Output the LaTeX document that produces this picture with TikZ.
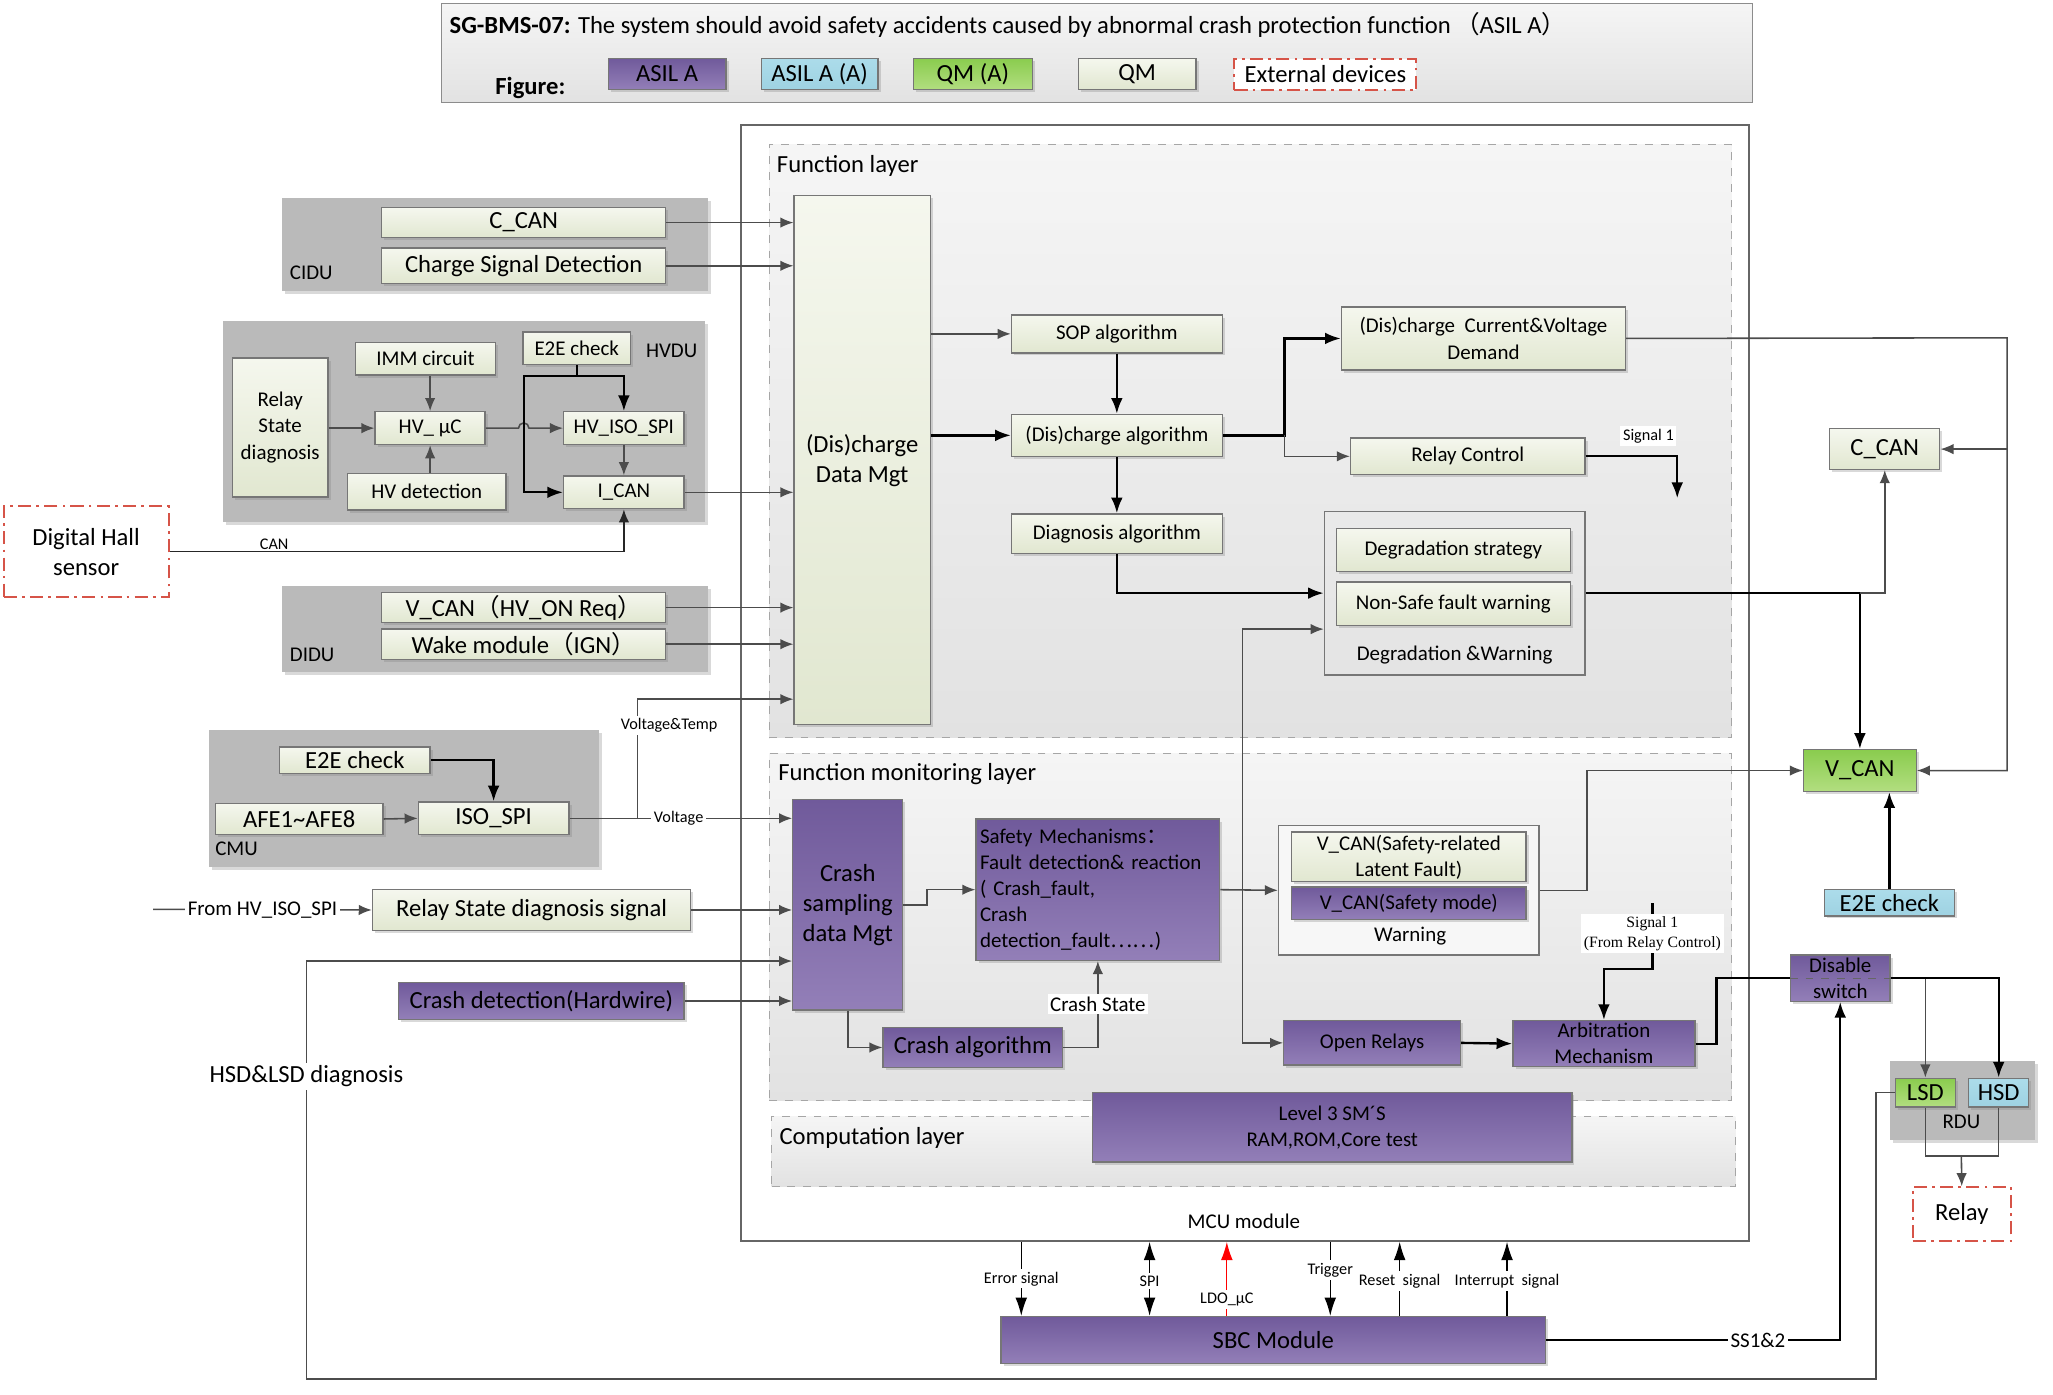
\documentclass[tikz,border=0pt]{standalone}
\usepackage{fontspec}
\setmainfont{Carlito}
\newfontfamily\cjk{Noto Sans CJK SC}
\newfontfamily\tms{Liberation Serif}
\usetikzlibrary{arrows.meta,calc,shadows}

\definecolor{asilTop}{RGB}{112,90,155}
\definecolor{asilBot}{RGB}{147,127,184}
\definecolor{blueTop}{RGB}{172,220,234}
\definecolor{blueBot}{RGB}{158,210,226}
\definecolor{qmaTop}{RGB}{138,204,78}
\definecolor{qmaBot}{RGB}{178,222,128}
\definecolor{qmTop}{RGB}{245,247,238}
\definecolor{qmBot}{RGB}{225,231,208}
\definecolor{grpGray}{RGB}{186,186,186}
\definecolor{layTop}{RGB}{245,245,245}
\definecolor{layBot}{RGB}{226,226,226}
\definecolor{extRed}{RGB}{214,84,72}
\definecolor{edgeGray}{RGB}{118,118,118}

\newcommand\fbig{\fontsize{9.4}{11.5}\selectfont}
\newcommand\fmid{\fontsize{8}{10}\selectfont}
\newcommand\fsml{\fontsize{6.2}{7.5}\selectfont}

\tikzset{
  sz/.style 2 args={minimum width=#1*0.5pt, minimum height=#2*0.5pt},
  bx/.style={draw=edgeGray, line width=0.5pt, inner sep=1pt, anchor=north west, align=center, font=\fmid},
  box/.style={bx, drop shadow={shadow xshift=1pt, shadow yshift=-1pt, opacity=0.3}},
  asil/.style={box, top color=asilTop, bottom color=asilBot},
  asila/.style={box, top color=blueTop, bottom color=blueBot},
  qma/.style={box, top color=qmaTop, bottom color=qmaBot},
  qm/.style={box, top color=qmTop, bottom color=qmBot},
  extdev/.style={bx, draw=extRed, line width=0.8pt, dash pattern=on 5pt off 2pt on 1pt off 2pt, fill=white, font=\fbig},
  grp/.style={anchor=north west, fill=grpGray, inner sep=0, drop shadow={shadow xshift=1.2pt, shadow yshift=-1.2pt, opacity=0.3}},
  layer/.style={anchor=north west, draw=black!35, dashed, top color=layTop, bottom color=layBot, inner sep=0},
  conn/.style={draw=black!70, line width=0.6pt, -{Latex[length=5pt,width=4pt]}},
  connb/.style={draw=black, line width=0.9pt, -{Latex[length=6pt,width=4.5pt]}},
  sig/.style={draw=black, line width=0.5pt, -{Latex[length=7pt,width=4.5pt]}},
  lbl/.style={font=\fsml, inner sep=1pt},
  wlbl/.style={lbl, fill=white},
}

\begin{document}
\begin{tikzpicture}[x=0.5pt, y=-0.5pt]
  \useasboundingbox (0,0) rectangle (1568,1065);

  % Header and legend
  \node[anchor=north west, draw=black!45, top color=layTop, bottom color=layBot, inner sep=0, sz={1001}{76}] (hdr) at (337,2) {};
  \node[anchor=west, font=\fbig, inner sep=0] (title) at (343,19)
    {\textbf{SG-BMS-07:} The system should avoid safety accidents caused by abnormal crash protection function\,{\cjk （}ASIL A{\cjk ）}};
  \node[anchor=west, font=\fbig\bfseries, inner sep=0] (figlbl) at (378,67) {Figure:};
  \node[asil, font=\fbig, sz={90}{24}] (lgA) at (464,44) {ASIL A};
  \node[asila, font=\fbig, sz={89}{24}] (lgAA) at (581,44) {ASIL A (A)};
  \node[qma, font=\fbig, sz={91}{24}] (lgQA) at (697,44) {QM (A)};
  \node[qm, font=\fbig, sz={90}{24}] (lgQM) at (823,44) {QM};
  \node[extdev, sz={139}{24}] (lgExt) at (942,44) {External devices};

  % MCU module and its layers
  \node[anchor=north west, draw=black!60, line width=0.7pt, fill=white, inner sep=0, sz={770}{852}] (mcu) at (565,95) {};
  \node[font=\fmid] (mculbl) at (950,933) {MCU module};
  \node[layer, sz={735}{453}] (flay) at (587,110) {};
  \node[layer, sz={735}{265}] (mlay) at (587,575) {};
  \node[layer, sz={736}{54}] (clay) at (589,852) {};
  \node[anchor=west, font=\fbig, inner sep=0] at (593,127) {Function layer};
  \node[anchor=west, font=\fbig, inner sep=0] at (594,591) {Function monitoring layer};
  \node[anchor=west, font=\fbig, inner sep=0] at (595,869) {Computation layer};

  % CIDU
  \node[grp, sz={325}{71}] (cidu) at (215,151) {};
  \node[anchor=west, font=\fmid, inner sep=0] at (221,208) {CIDU};
  \node[qm, font=\fbig, sz={217}{23}] (ciduCcan) at (291,158) {C\_CAN};
  \node[qm, font=\fbig, sz={217}{27}] (csd) at (291,189) {Charge Signal Detection};

  % HVDU
  \node[grp, sz={368}{153}] (hvdu) at (170,245) {};
  \node[font=\fmid, inner sep=0] at (513,268) {HVDU};
  \node[qm, sz={73}{106}] (rsd) at (177,273) {Relay\\State\\diagnosis};
  \node[qm, sz={107}{25}] (imm) at (271,261) {IMM circuit};
  \node[qm, sz={84}{25}] (hvuc) at (286,314) {HV\_ µC};
  \node[qm, sz={121}{28}] (hvdet) at (265,361) {HV detection};
  \node[qm, sz={82}{25}] (hveee) at (399,253) {E2E check};
  \node[qm, sz={92}{25}] (hviso) at (430,314) {HV\_ISO\_SPI};
  \node[qm, sz={92}{25}] (ican) at (430,363) {I\_CAN};
  \coordinate (hvbr) at (400,287);

  \node[extdev, sz={126}{69}] (hall) at (2,386) {Digital Hall\\sensor};

  % DIDU
  \node[grp, sz={325}{66}] (didu) at (215,447) {};
  \node[anchor=west, font=\fmid, inner sep=0] at (221,500) {DIDU};
  \node[qm, font=\fbig, sz={217}{21}] (diduVcan) at (291,452) {V\_CAN{\cjk （}HV\_ON Req{\cjk ）}};
  \node[qm, font=\fbig, sz={217}{23}] (wake) at (291,480) {Wake module{\cjk （}IGN{\cjk ）}};

  % CMU
  \node[grp, sz={298}{105}] (cmu) at (159,557) {};
  \node[anchor=west, font=\fmid, inner sep=0] at (164,648) {CMU};
  \node[qm, font=\fbig, sz={115}{20}] (cmuEee) at (213,570) {E2E check};
  \node[qm, font=\fbig, sz={128}{24}] (afe) at (164,613) {AFE1\textasciitilde AFE8};
  \node[qm, font=\fbig, sz={115}{25}] (iso) at (319,612) {ISO\_SPI};

  \node[qm, font=\fbig, sz={243}{31}] (rsds) at (284,679) {Relay State diagnosis signal};
  \node[asil, font=\fbig, sz={218}{28}] (crdet) at (304,750) {Crash detection(Hardwire)};
  \coordinate (fhv) at (117,694.5);
  \coordinate (hsdc) at (234,1053);

  % Function layer
  \node[qm, font=\fbig, sz={104}{404}] (dmgt) at (606,149) {(Dis)charge\\Data Mgt};
  \node[qm, sz={161}{29}] (sop) at (772,240) {SOP algorithm};
  \node[qm, sz={161}{32}] (dca) at (772,316) {(Dis)charge algorithm};
  \node[qm, sz={161}{30}] (diag) at (772,392) {Diagnosis algorithm};
  \node[qm, sz={217}{48}] (dem) at (1024,234) {(Dis)charge\ \ Current\&Voltage\\Demand};
  \node[qm, sz={179}{28}] (rctl) at (1031,334) {Relay Control};
  \node[bx, sz={199}{125}] (dgw) at (1011,390) {};
  \node[qm, sz={179}{33}] (degs) at (1020,403) {Degradation strategy};
  \node[qm, sz={179}{33}] (nsfw) at (1020,444) {Non-Safe fault warning};
  \node[font=\fmid] at (1111,500) {Degradation \&Warning};
  \node[wlbl] (sig1) at (1259,333) {Signal 1};
  \coordinate (oj) at (949,640);

  % Function monitoring layer
  \node[asil, font=\fbig, sz={84}{161}] (csmp) at (605,610) {Crash\\sampling\\data Mgt};
  \node[asil, font=\fbig, sz={137}{31}] (calg) at (674,784) {Crash algorithm};
  \node[asil, sz={186}{108}, text width=90pt, align=left] (sm) at (745,625)
    {Safety Mechanisms{\cjk ：}\\Fault detection\& reaction\\( Crash\_fault,\\Crash\\detection\_fault{\cjk ……})};
  \node[bx, fill=black!3, sz={199}{99}] (wgrp) at (976,630) {};
  \node[qm, sz={179}{35}] (vlat) at (986,635) {V\_CAN(Safety-related\\Latent Fault)};
  \node[asil, sz={179}{25}] (vsm) at (986,677) {V\_CAN(Safety mode)};
  \node[font=\fmid] at (1077,715) {Warning};
  \node[asil, sz={135}{34}] (orel) at (980,779) {Open Relays};
  \node[asil, sz={139}{34}] (arb) at (1155,779) {Arbitration\\Mechanism};
  \coordinate (s1) at (1262,690);

  % Computation layer
  \node[asil, sz={366}{53}] (lvl) at (834,834) {Level 3 SM´S\\RAM,ROM,Core test};

  % SBC
  \node[asil, font=\fbig, sz={416}{36}] (sbc) at (764,1005) {SBC Module};

  % Right side
  \node[qm, font=\fbig, sz={84}{31}] (rccan) at (1397,327) {C\_CAN};
  \node[qma, font=\fbig, sz={86}{32}] (vcan) at (1377,572) {V\_CAN};
  \node[asila, font=\fbig, sz={99}{20}] (reee) at (1393,679) {E2E check};
  \node[asil, sz={76}{34}] (dsw) at (1367,729) {Disable\\switch};
  \node[grp, sz={111}{60}] (rdu) at (1443,810) {};
  \node[qma, font=\fbig, sz={46}{22}] (lsd) at (1447,823) {LSD};
  \node[asila, font=\fbig, sz={46}{22}] (hsd) at (1503,823) {HSD};
  \node[font=\fmid] at (1498,857) {RDU};
  \node[extdev, sz={75}{41}] (relay) at (1460,906) {Relay};
  \coordinate (rbus) at (1533,258);
  \coordinate (rj) at (1498,883);

  % Inputs to (Dis)charge Data Mgt
  \draw[conn] (ciduCcan.east) -- (ciduCcan -| dmgt.west);
  \draw[conn] (csd.east) -- (csd -| dmgt.west);
  \draw[conn] (ican.east) -- (ican -| dmgt.west);
  \draw[conn] (diduVcan.east) -- (diduVcan -| dmgt.west);
  \draw[conn] (wake.east) -- (wake -| dmgt.west);
  \draw[conn] (iso.east -| 487,0) |- ($(dmgt.south west)+(0,-20)$);
  \node[wlbl] at (511,554) {Voltage\&Temp};

  % HVDU
  \draw[conn] (rsd.east |- hvuc) -- (hvuc.west);
  \draw[conn] (imm.south -| hvuc) -- (hvuc.north);
  \draw[conn] (hvdet.north -| hvuc) -- (hvuc.south);
  \draw[conn] (hvuc.east) -- ($(hvuc.east -| hvbr)+(-4,0)$) arc (180:360:4) -- (hviso.west);
  \draw[connb] (hveee.south) |- (hvbr) |- (ican.west);
  \draw[connb] (hveee.south |- hvbr) -| (hviso.north);
  \draw[conn] (hviso.south) -- (ican.north);
  \draw[conn, draw=black!85] (hall.east) -| (ican.south) node[pos=0.115, above, lbl, inner sep=0.5pt] {CAN};

  % CMU and other inputs
  \draw[connb] (cmuEee.east) -| (iso.north);
  \draw[conn] (afe.east) -- (iso.west);
  \draw[conn] (iso.east) -- (iso.east -| csmp.west) node[wlbl, pos=0.49] {Voltage};
  \draw[conn] (fhv) -- (rsds.west) node[wlbl, font=\fmid, pos=0.5] {From HV\_ISO\_SPI};
  \draw[conn] (rsds.east) -- (rsds -| csmp.west);
  \draw[conn] (crdet.east) -- (crdet -| csmp.west);
  \draw[conn] (lsd.west) -- ++(-14,0) |- (hsdc) |- ($(csmp.south west)+(0,-38)$);
  \node[wlbl, font=\fbig] at (234,822) {HSD\&LSD diagnosis};

  % Function layer
  \draw[conn] (dmgt.east |- sop.west) -- (sop.west);
  \draw[connb] (dmgt.east |- dca.west) -- (dca.west);
  \draw[connb] (sop.south) -- (dca.north);
  \draw[connb] (dca.south) -- (diag.north);
  \draw[connb] (dca.east) -- ++(47,0) |- (dem.west);
  \draw[conn] ($(dca.east)+(47,0)$) |- (rctl.west);
  \draw[connb] (rctl.east) -- ++(70,0) -- ++(0,32);
  \draw[connb] (diag.south) |- (dgw.west);
  \draw[conn] (oj) |- ($(dgw.west)+(0,27.5)$);
  \draw[conn] (oj) |- (orel.west);
  \draw[conn] (dem.east) -- (rbus) |- (vcan.east);
  \draw[conn] (rbus |- rccan.east) -- (rccan.east);
  \draw[connb] (dgw.east) -| (vcan.north);
  \draw[conn] (vcan.north |- dgw.east) -| (rccan.south);
  \draw[connb] (reee.north) -- (reee.north |- vcan.south);

  % Function monitoring layer
  \draw[conn] (csmp.east) -- ++(18,0) |- (sm.west);
  \draw[conn] (csmp.south) |- (calg.west);
  \draw[conn] (calg.east) -| (sm.south) node[wlbl, font=\fmid, pos=0.75] {Crash State};
  \draw[conn] (sm.east) -- (wgrp.west);
  \draw[conn] (wgrp.east) -- ++(36,0) |- (vcan.west);
  \draw[connb] (orel.east) -- (arb.west);
  \draw[connb] (s1) -- ++(0,50) -| (arb.north);
  \node[lbl, fill=white, font=\tms\fontsize{6}{7.5}\selectfont, align=center] at (1262,713) {Signal 1\\(From Relay Control)};
  \draw[draw=black, line width=0.9pt] (arb.east) -- ++(16,0) |- (dsw.west);
  \draw[black!60, dashed, line width=0.5pt] (dsw.west) -- (dsw.east);
  \draw[conn] (dsw.east) -| (lsd.north);
  \draw[connb] (dsw.east) -| (hsd.north);
  \draw[draw=black!70, line width=0.6pt] (lsd.south) |- (rj) -| (hsd.south);
  \draw[conn] (rj) -- (relay.north);
  \draw[connb] (sbc.east) -| (dsw.south) node[wlbl, font=\fmid, pos=0.36] {SS1\&2};

  % MCU <-> SBC signals
  \draw[sig] (mcu.south -| 780,0) -- (sbc.north -| 780,0) node[wlbl, pos=0.5] {Error signal};
  \draw[sig, {Latex[length=7pt,width=4.5pt]}-{Latex[length=7pt,width=4.5pt]}] (mcu.south -| 878,0) -- (sbc.north -| 878,0) node[wlbl, pos=0.53] {SPI};
  \draw[sig, red] (sbc.north -| 937,0) -- (mcu.south -| 937,0) node[wlbl, text=black, pos=0.22] {LDO\_µC};
  \draw[sig] (mcu.south -| 1016,0) -- (sbc.north -| 1016,0) node[wlbl, pos=0.38] {Trigger};
  \draw[sig] (sbc.north -| 1069,0) -- (mcu.south -| 1069,0) node[wlbl, pos=0.47] {Reset\ \ signal};
  \draw[sig] (sbc.north -| 1151,0) -- (mcu.south -| 1151,0) node[wlbl, pos=0.47] {Interrupt\ \ signal};
\end{tikzpicture}
\end{document}
